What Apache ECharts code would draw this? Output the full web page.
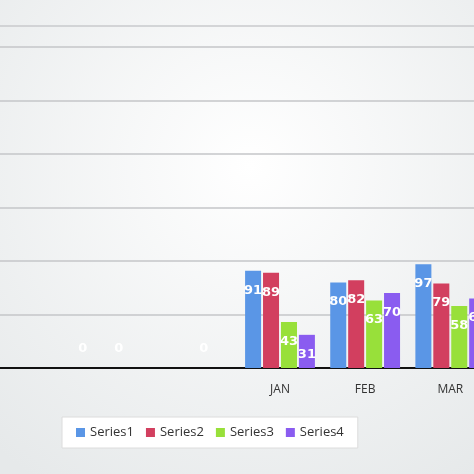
<!DOCTYPE html>
<html>
<head>
<meta charset="utf-8">
<script src="https://cdn.jsdelivr.net/npm/echarts@6/dist/echarts.min.js"></script>
<style>html,body{margin:0;padding:0;overflow:hidden;width:474px;height:474px;position:relative;}
#container{width:596px;height:474px;position:absolute;left:-18px;top:0;}</style>
</head>
<body>
<div id="container"></div>
<script>
var categories = ['', '', '', 'JAN', 'FEB', 'MAR', 'APR'];
var series1 = [null, 0, null, 91, 80, 97, 90];
var series2 = [null, null, null, 89, 82, 79, 85];
var series3 = [null, 0, 0, 43, 63, 58, 60];
var series4 = [null, null, null, 31, 70, 65, 62];
var seriesNames = ['Series1', 'Series2', 'Series3', 'Series4'];
var colors = ['#5a96e6', '#d23f5f', '#98e03a', '#8a5cf0'];

function makeItems(arr) {
    var out = [];
    for (var i = 0; i < arr.length; i++) {
        if (arr[i] === 0) {
            // zero values get their label lifted above the axis
            out.push({value: 0, label: {position: 'top', distance: 13}});
        } else {
            out.push(arr[i]);
        }
    }
    return out;
}

var allData = [series1, series2, series3, series4];
var seriesList = [];
for (var s = 0; s < 4; s++) {
    seriesList.push({
        name: seriesNames[s],
        type: 'bar',
        barGap: '12%',
        barCategoryGap: '18%',
        itemStyle: {color: colors[s]},
        label: {
            show: true,
            position: 'insideTop',
            distance: 13,
            color: '#fff',
            fontSize: 13,
            fontWeight: 'bold',
            fontFamily: 'DejaVu Sans'
        },
        data: makeItems(allData[s])
    });
}

var myChart = echarts.init(document.getElementById('container'));
var option = {
    backgroundColor: {
        type: 'radial', x: 0.45, y: 0.35, r: 0.8,
        colorStops: [{offset: 0, color: '#ffffff'}, {offset: 1, color: '#e6e9ea'}]
    },
    animation: false,
    grid: {left: 0, right: 0, top: 47, bottom: 106},
    xAxis: {
        type: 'category',
        data: categories,
        axisLine: {lineStyle: {color: '#111', width: 2}},
        axisTick: {show: false},
        axisLabel: {color: '#333', fontSize: 12, margin: 16, fontFamily: 'Open Sans'}
    },
    yAxis: {
        type: 'value',
        min: 0, max: 300, interval: 50,
        axisLabel: {show: false},
        axisLine: {show: false},
        splitLine: {lineStyle: {color: '#c4c6c8', width: 1.5}}
    },
    legend: {
        data: seriesNames,
        bottom: 26,
        left: 80,
        backgroundColor: '#fff',
        borderColor: '#dcdcdc',
        borderWidth: 1,
        padding: [9, 14],
        itemWidth: 9,
        itemHeight: 9,
        itemGap: 12,
        icon: 'rect',
        textStyle: {color: '#333', fontSize: 13, fontFamily: 'Open Sans'}
    },
    graphic: [{
        type: 'line',
        shape: {x1: 0, y1: 26, x2: 596, y2: 26},
        style: {stroke: '#c8cacc', lineWidth: 1.5}
    }],
    series: seriesList
};
myChart.setOption(option, true);
</script>
</body>
</html>
